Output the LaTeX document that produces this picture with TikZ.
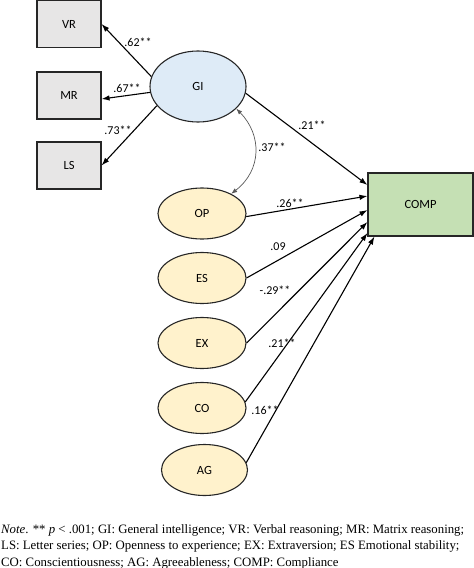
\documentclass[tikz,border=0pt]{standalone}
\usepackage{fontspec}
\setmainfont{Liberation Serif}
\newfontfamily\nodefont{Carlito}
\usetikzlibrary{arrows.meta,calc,shapes.geometric}
\definecolor{boxgray}{HTML}{E7E6E6}
\definecolor{giblue}{HTML}{DEEBF7}
\definecolor{persyellow}{HTML}{FFF2CC}
\definecolor{compgreen}{HTML}{C5E0B4}
\definecolor{edgedark}{HTML}{262626}
\begin{document}
\begin{tikzpicture}[x=1pt,y=-1pt,
  obs/.style={draw=edgedark, line width=1.1pt, fill=boxgray, minimum width=64pt, minimum height=47pt, inner sep=0pt, font=\nodefont\fontsize{12.5}{14}\selectfont},
  lat/.style={draw=edgedark, line width=1.1pt, ellipse, inner sep=0pt, font=\nodefont\fontsize{12.5}{14}\selectfont},
  pers/.style={lat, fill=persyellow, minimum width=88pt, minimum height=51pt},
  path/.style={draw=black, line width=1.1pt, -{Latex[length=8pt,width=5.5pt]}},
  covar/.style={draw=gray!70!black, line width=0.7pt, {Latex[length=6pt,width=4.5pt]}-{Latex[length=6pt,width=4.5pt]}},
  coef/.style={font=\nodefont\fontsize{12}{14}\selectfont, inner sep=0pt}]
\useasboundingbox (0,0) rectangle (474,568);
% observed indicators
\node[obs] (VR) at (69,24) {VR};
\node[obs] (MR) at (69,95.5) {MR};
\node[obs] (LS) at (69,165.5) {LS};
% latent
\node[lat, fill=giblue, minimum width=96pt, minimum height=71pt] (GI) at (198,86.5) {GI};
\node[draw=edgedark, line width=1.1pt, fill=compgreen, minimum width=105pt, minimum height=63pt, inner sep=0pt, font=\nodefont\fontsize{12.5}{14}\selectfont] (COMP) at (420.5,204.5) {COMP};
\node[pers] (OP) at (202,213.5) {OP};
\node[pers] (ES) at (202,278) {ES};
\node[pers] (EX) at (202,343) {EX};
\node[pers] (CO) at (202,408) {CO};
\node[pers, minimum width=86pt] (AG) at (204.5,470) {AG};
% loadings
\draw[path] (GI.168) -- (VR.east);
\draw[path] (GI.-173) -- ($(MR.east)+(0,3.5)$);
\draw[path] (GI.-155) -- (LS.east);
\node[coef] (l1) at (138,42) {.62**};
\node[coef] (l2) at (127,88) {.67**};
\node[coef] (l3) at (118,130) {.73**};
% structural paths
\draw[path] (GI.-8) -- ($(COMP.west)+(0,-19.5)$);
\draw[path] (OP.-4) -- ($(COMP.west)+(0,-8.5)$);
\draw[path] (ES.east) -- ($(COMP.west)+(0,5.5)$);
\draw[path] (EX.east) -- ($(COMP.west)+(0,17.5)$);
\draw[path] (CO.8) -- ($(COMP.west)+(0,28.5)$);
\draw[path] (AG.10) -- ($(COMP.south west)+(7,0)$);
\node[coef] (c1) at (312,125) {.21**};
\node[coef] (c2) at (290,203) {.26**};
\node[coef] (c3) at (278,247) {.09};
\node[coef] (c4) at (275,290) {-.29**};
\node[coef] (c5) at (282,343) {.21**};
\node[coef] (c6) at (265,410) {.16**};
% covariance
\draw[covar] (GI.-30) .. controls (262,135) and (262,170) .. (OP.34);
\node[coef] (cv) at (272,147) {.37**};
% note
\node[anchor=north west, inner sep=0pt, align=left, font=\fontsize{12.8}{16.5}\selectfont] (note) at (1,524)
  {\textit{Note}. ** \textit{p} < .001; GI: General intelligence; VR: Verbal reasoning; MR: Matrix reasoning;\\
   LS: Letter series; OP: Openness to experience; EX: Extraversion; ES Emotional stability;\\
   CO: Conscientiousness; AG: Agreeableness; COMP: Compliance};
\end{tikzpicture}
\end{document}
